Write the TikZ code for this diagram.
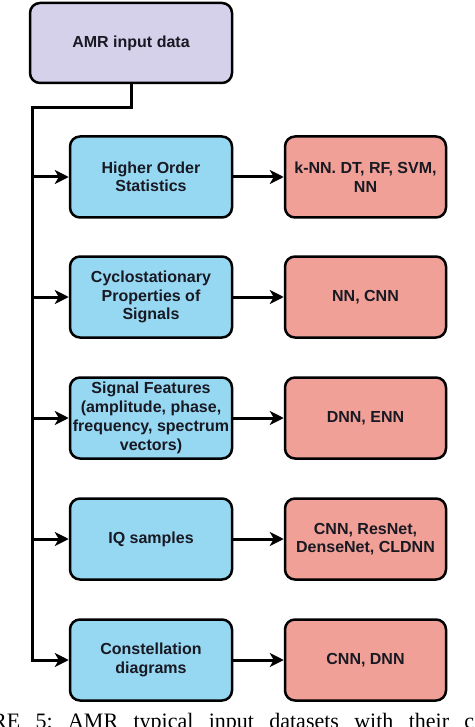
\documentclass[tikz,border=0pt]{standalone}
\usepackage{fontspec}
\setmainfont{Liberation Sans}
\newfontfamily\capfont{Liberation Serif}
\usetikzlibrary{arrows.meta}
\definecolor{amrfill}{RGB}{214,209,235}
\definecolor{infill}{RGB}{150,216,242}
\definecolor{outfill}{RGB}{240,160,150}
\definecolor{txt}{RGB}{25,25,35}
\frenchspacing
\begin{document}
\begin{tikzpicture}[x=1pt,y=-1pt,
    box/.style={draw, line width=2.5pt, rounded corners=10pt, align=center, text=txt,
        inner sep=0pt, font=\fontsize{16}{18.5}\selectfont\bfseries},
    inbox/.style={box, fill=infill, minimum width=162pt, minimum height=81pt},
    outbox/.style={box, fill=outfill, minimum width=161pt, minimum height=81pt},
    arr/.style={line width=3pt, -{Stealth[length=14pt,width=14pt,inset=4pt]}}]{

    \useasboundingbox (0,0) rectangle (474,727);
    \clip (0,0) rectangle (474,727);

    \node [box, fill=amrfill, minimum width=202pt, minimum height=80pt] (AMR) at (131,43) {AMR input data};

    \node [inbox] (HOS) at (151,177) {Higher Order\\Statistics};
    \node [inbox] (CYC) at (151,297) {Cyclostationary\\Properties of\\Signals};
    \node [inbox, font=\fontsize{16}{19}\selectfont\bfseries] (SF) at (151,418) {Signal Features\\(amplitude, phase,\\frequency, spectrum\\vectors)};
    \node [inbox] (IQ) at (151,539) {IQ samples};
    \node [inbox] (CD) at (151,660) {Constellation\\diagrams};

    \node [outbox] (HOSm) at (365.5,177) {k-NN. DT, RF, SVM,\\NN};
    \node [outbox] (CYCm) at (365.5,297) {NN, CNN};
    \node [outbox] (SFm) at (365.5,418) {DNN, ENN};
    \node [outbox] (IQm) at (365.5,539) {CNN, ResNet,\\DenseNet, CLDNN};
    \node [outbox] (CDm) at (365.5,660) {CNN, DNN};

    \coordinate (J) at (32,108);
    \draw [arr] (AMR.south) |- (J) |- (CD.west);
    \draw [arr] (J |- HOS.west) -- (HOS.west);
    \draw [arr] (J |- CYC.west) -- (CYC.west);
    \draw [arr] (J |- SF.west) -- (SF.west);
    \draw [arr] (J |- IQ.west) -- (IQ.west);

    \draw [arr] (HOS) -- (HOSm);
    \draw [arr] (CYC) -- (CYCm);
    \draw [arr] (SF) -- (SFm);
    \draw [arr] (IQ) -- (IQm);
    \draw [arr] (CD) -- (CDm);

    \node [anchor=base west, inner sep=0pt, font=\capfont\fontsize{22}{22}\selectfont] (CAP) at (-8,728)
        {\makebox[482pt][s]{RE 5: AMR typical input datasets with their c}};
    }
\end{tikzpicture}
\end{document}
